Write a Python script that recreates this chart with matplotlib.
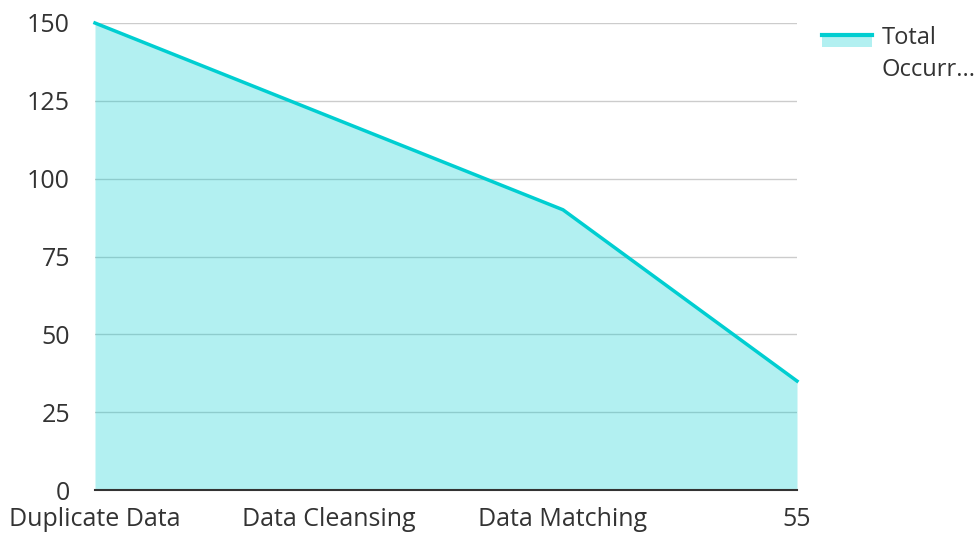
import matplotlib
matplotlib.use("Agg")
from matplotlib import pyplot as plt
from matplotlib.patches import Rectangle
from matplotlib.lines import Line2D

categories = ["Duplicate Data", "Data Cleansing", "Data Matching", "55"]
occurrences = [150, 120, 90, 35]
y_ticks = [0, 25, 50, 75, 100, 125, 150]

plt.rcParams['font.family'] = ['Open Sans', 'DejaVu Sans']

W, H = 978, 533
fig = plt.figure(figsize=(W / 100, H / 100), dpi=100)
ax = fig.add_axes([95 / W, 1 - 490 / H, (797 - 95) / W, (490 - 23) / H])

x = list(range(len(categories)))
color = "#00CED1"
ax.fill_between(x, occurrences, 0, color=color, alpha=0.3, linewidth=0, zorder=2)
ax.plot(x, occurrences, color=color, linewidth=2.5, zorder=3, clip_on=False)

ax.set_xlim(0, len(categories) - 1)
ax.set_ylim(0, 150)
ax.set_yticks(y_ticks)
ax.set_xticks(x)
ax.set_xticklabels(categories)
ax.grid(axis="y", color="#cccccc", linewidth=1, zorder=1)
ax.set_axisbelow(True)
for s in ["top", "right", "left"]:
    ax.spines[s].set_visible(False)
ax.spines["bottom"].set_color("#333333")
ax.spines["bottom"].set_linewidth(1.5)
ax.spines["bottom"].set_zorder(4)
ax.tick_params(length=0, labelsize=18, labelcolor="#333333")
ax.tick_params(axis="y", pad=18)
ax.tick_params(axis="x", pad=12)

# legend
fig.patches.append(Rectangle((822 / W, 1 - 47 / H), 50 / W, 13 / H,
                             transform=fig.transFigure, color=color, alpha=0.3, linewidth=0))
fig.lines.append(Line2D([822 / W, 872 / W], [1 - 35 / H, 1 - 35 / H],
                        transform=fig.transFigure, color=color, linewidth=3))
fig.text(882 / W, 1 - 54 / H, "Total\nOccurr...", fontsize=17, color="#333333",
         va="center", ha="left", linespacing=1.4)

fig.savefig("out.png", dpi=100)
